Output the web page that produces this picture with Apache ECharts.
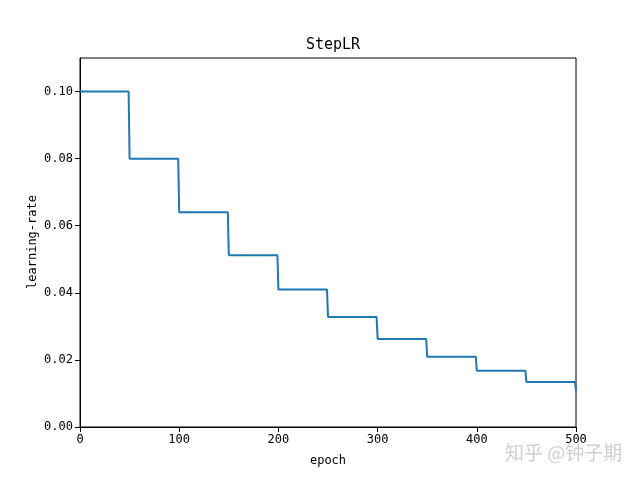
<!DOCTYPE html>
<html>
<head>
<meta charset="utf-8">
<script src="https://cdn.jsdelivr.net/npm/echarts@6/dist/echarts.min.js"></script>
<style>html,body{margin:0;padding:0;background:#fff;}#c{width:640px;height:480px;}</style>
</head>
<body>
<div id="c"></div>
<script>
// Step boundaries (epoch where each LR segment begins) and LR per segment
const stepStarts = [0, 50, 100, 150, 200, 250, 300, 350, 400, 450, 500];
const stepEnds   = [49, 99, 149, 199, 249, 299, 349, 399, 449, 499, 500];
const lrValues   = [0.1, 0.08, 0.064, 0.0512, 0.04096, 0.032768, 0.0262144, 0.02097152, 0.016777216, 0.0134217728, 0.01073741824];
const xTicks = [0, 100, 200, 300, 400, 500];
const yTicks = [0.00, 0.02, 0.04, 0.06, 0.08, 0.10];

const data = [];
for (let i = 0; i < lrValues.length; i++) {
  data.push([stepStarts[i], lrValues[i]]);
  if (stepEnds[i] !== stepStarts[i]) data.push([stepEnds[i], lrValues[i]]);
}

const FONT = '"DejaVu Sans Mono", "Noto Sans CJK SC", monospace';
const chart = echarts.init(document.getElementById('c'));
chart.setOption({
  animation: false,
  backgroundColor: '#fff',
  title: {
    text: 'StepLR', left: 328, top: 33, textAlign: 'center',
    textStyle: { fontFamily: FONT, fontSize: 15, fontWeight: 'normal', color: '#000' }
  },
  grid: { left: 80, right: 64, top: 58, bottom: 53, show: true, borderColor: '#000', borderWidth: 1, backgroundColor: 'transparent' },
  xAxis: {
    type: 'value', min: 0, max: 500, interval: 100,
    name: 'epoch', nameLocation: 'middle', nameGap: 28,
    nameTextStyle: { fontFamily: FONT, fontSize: 12, color: '#000' },
    axisLine: { show: true, lineStyle: { color: '#000', width: 1 } },
    axisTick: { show: true, inside: false, length: 5, lineStyle: { color: '#000' }, customValues: xTicks },
    axisLabel: { fontFamily: FONT, fontSize: 12, color: '#000', margin: 7, customValues: xTicks },
    splitLine: { show: false }
  },
  yAxis: {
    type: 'value', min: 0, max: 0.11, interval: 0.02,
    axisLine: { show: true, lineStyle: { color: '#000', width: 1 } },
    axisTick: { show: true, inside: false, length: 5, lineStyle: { color: '#000' }, customValues: yTicks },
    axisLabel: { fontFamily: FONT, fontSize: 12, color: '#000', margin: 7, customValues: yTicks,
      formatter: v => v.toFixed(2) },
    splitLine: { show: false }
  },
  series: [{
    type: 'line', data: data, showSymbol: false, symbol: 'none',
    lineStyle: { color: '#1f77b4', width: 2 }, clip: true
  }],
  graphic: [{
    type: 'text', x: 33, y: 242, rotation: Math.PI / 2, silent: true,
    style: { text: 'learning-rate', font: '12px ' + FONT, fill: '#000', align: 'center', verticalAlign: 'middle' }
  }, {
    type: 'text', left: 505, top: 443, silent: true,
    style: { text: '知乎 @钟子期', font: '19px "Noto Sans CJK SC"', fill: '#d0d0d0' }
  }]
});
</script>
</body>
</html>
